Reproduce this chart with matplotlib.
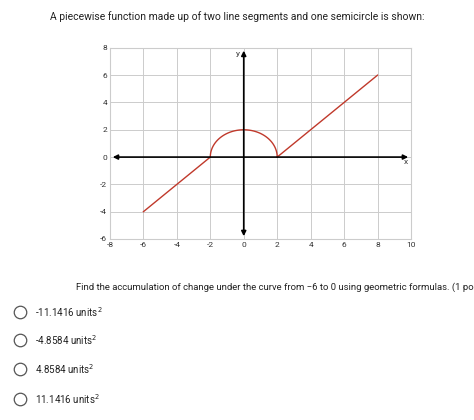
import numpy as np
import matplotlib.pyplot as plt

plt.rcParams['font.family'] = ['Roboto', 'DejaVu Sans']
plt.rcParams['axes.unicode_minus'] = False

seg1_x = [-6, -2]
seg1_y = [-4, 0]
seg2_x = [2, 8]
seg2_y = [0, 6]
circ_r = 2
x_ticks = [-8, -6, -4, -2, 0, 2, 4, 6, 8, 10]
y_ticks = [-6, -4, -2, 0, 2, 4, 6, 8]
options = ["-11.1416 units$^2$", "-4.8584 units$^2$", "4.8584 units$^2$", "11.1416 units$^2$"]

fig = plt.figure(figsize=(4.74, 4.2), dpi=100)
fig.text(0.5, 0.96, "A piecewise function made up of two line segments and one semicircle is shown:",
         ha="center", va="center", fontsize=7.5, color="#222222")

ax = fig.add_axes([0.232, 0.431, 0.635, 0.455])
ax.set_xlim(-8, 10)
ax.set_ylim(-6, 8)
ax.set_xticks(x_ticks)
ax.set_yticks(y_ticks)
ax.grid(color="#cccccc", lw=0.7)
for s in ax.spines.values():
    s.set_color("#cccccc")
ax.tick_params(length=0, labelsize=6, colors="#333333", pad=2)

ax.annotate("", xy=(10, 0), xytext=(-8, 0), arrowprops=dict(arrowstyle="<|-|>", color="black", lw=1.2, mutation_scale=7))
ax.annotate("", xy=(0, 8), xytext=(0, -6), arrowprops=dict(arrowstyle="<|-|>", color="black", lw=1.2, mutation_scale=7))
ax.text(9.6, -0.15, "x", fontsize=6, va="top", color="#333333")
ax.text(-0.25, 7.4, "y", fontsize=6, ha="right", color="#333333")

red = "#c0392b"
ax.plot(seg1_x, seg1_y, color=red, lw=1)
ax.plot(seg2_x, seg2_y, color=red, lw=1)
t = np.linspace(0, np.pi, 100)
ax.plot(circ_r * np.cos(t), circ_r * np.sin(t), color=red, lw=1)

fig.text(0.595, 0.317, "Find the accumulation of change under the curve from \u22126 to 0 using geometric formulas. (1 point)",
         ha="center", va="center", fontsize=6.8, color="#222222")
ys = [0.257, 0.19, 0.121, 0.05]
for y, lab in zip(ys, options):
    fig.lines.append(plt.Line2D([0.042], [y], transform=fig.transFigure, marker="o", ms=9,
                                mfc="none", mec="#555555", mew=0.9, ls="none"))
    fig.text(0.074, y, lab, va="center", fontsize=7, color="#222222")

fig.savefig("out.png", dpi=100)
